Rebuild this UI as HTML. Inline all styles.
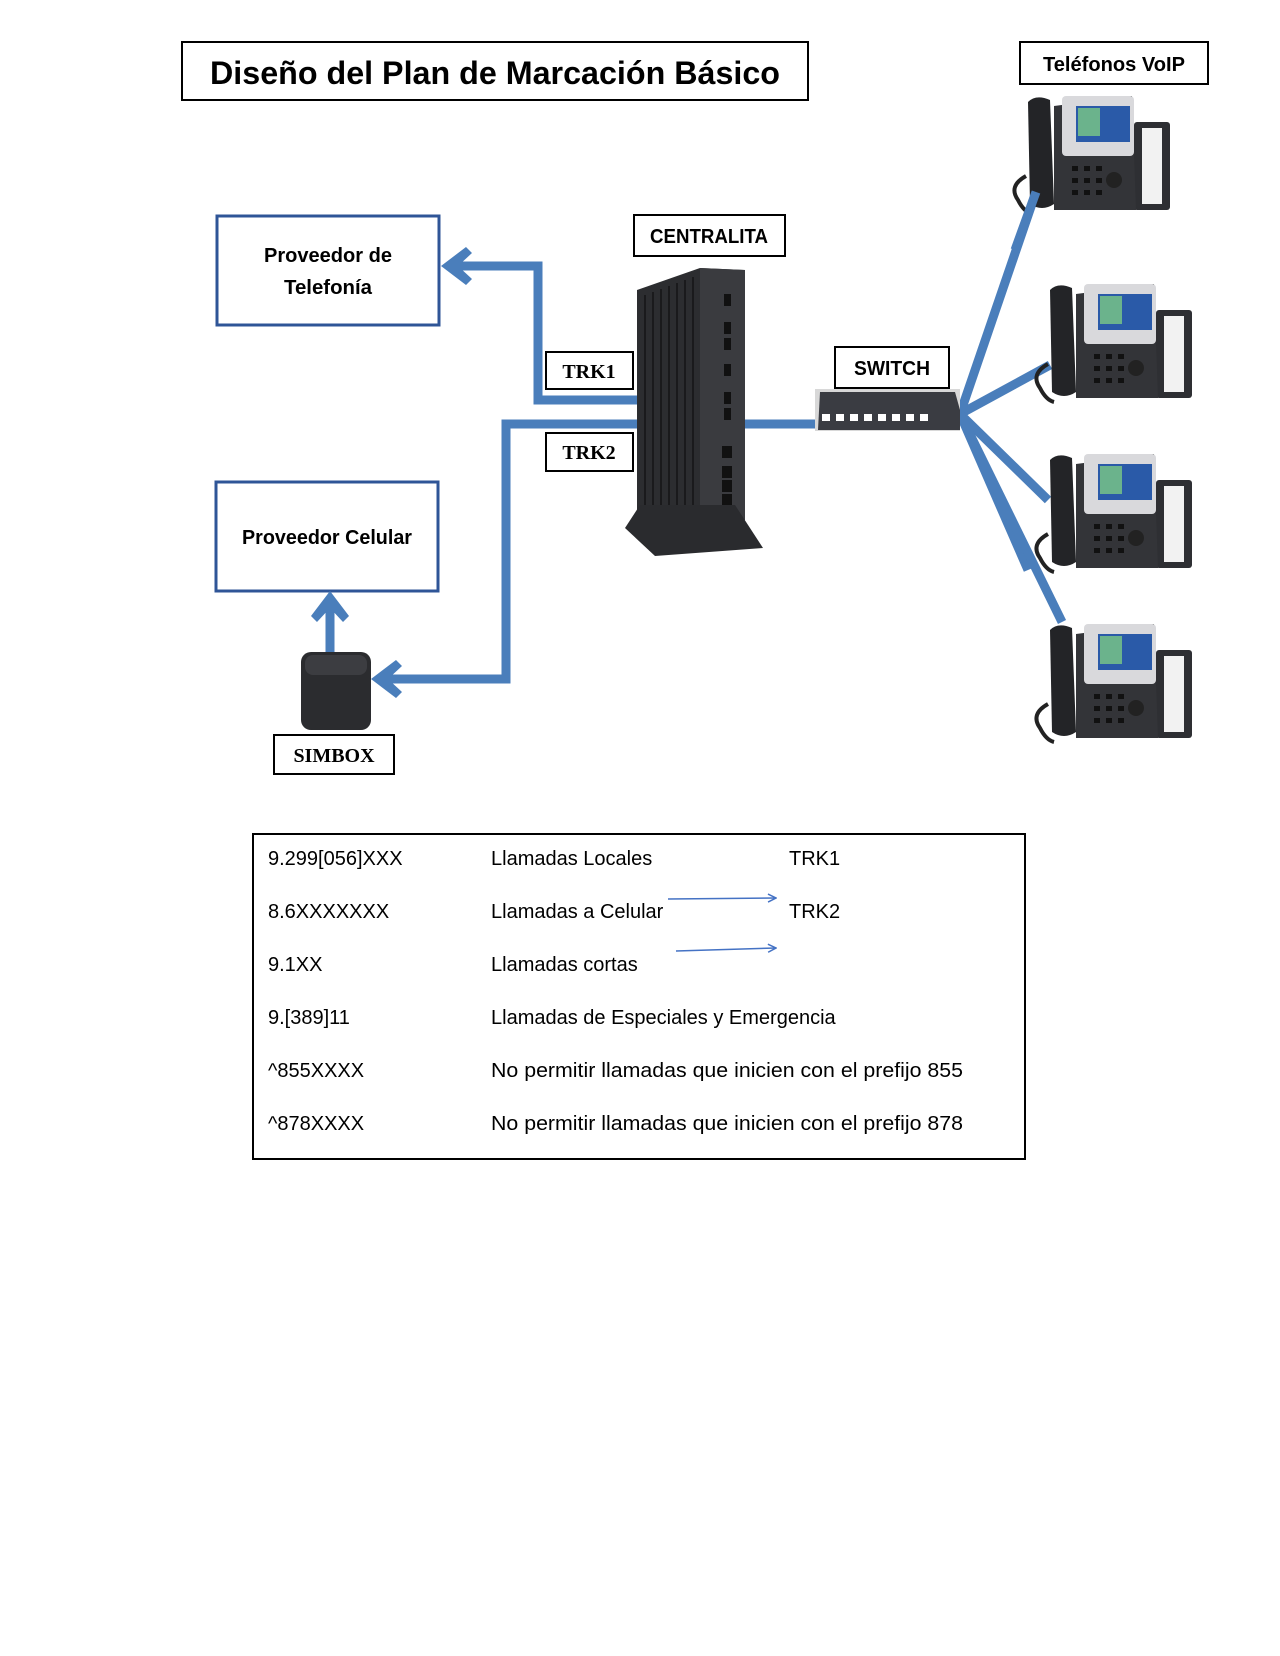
<!DOCTYPE html>
<html><head><meta charset="utf-8"><style>
html,body{margin:0;padding:0;background:#fff;}
svg{display:block;}
text{font-family:"Liberation Sans",sans-serif;}
</style></head><body>
<svg width="1280" height="1656" viewBox="0 0 1280 1656" xmlns="http://www.w3.org/2000/svg">
<defs>
<g id="phone">
  <!-- key module -->
  <rect x="110" y="26" width="36" height="88" rx="3" fill="#2e2f33"/>
  <rect x="118" y="32" width="20" height="76" fill="#f2f2f2"/>
  <!-- body -->
  <path d="M30 10 L108 0 L112 114 L30 114 Z" fill="#333438"/>
  <rect x="38" y="0" width="72" height="60" rx="4" fill="#d9d9dc"/>
  <rect x="52" y="10" width="54" height="36" fill="#2a5aa8"/>
  <rect x="54" y="12" width="22" height="28" fill="#6bb38c"/>
  <g fill="#111">
    <rect x="48" y="70" width="6" height="5"/><rect x="60" y="70" width="6" height="5"/><rect x="72" y="70" width="6" height="5"/>
    <rect x="48" y="82" width="6" height="5"/><rect x="60" y="82" width="6" height="5"/><rect x="72" y="82" width="6" height="5"/>
    <rect x="48" y="94" width="6" height="5"/><rect x="60" y="94" width="6" height="5"/><rect x="72" y="94" width="6" height="5"/>
  </g>
  <circle cx="90" cy="84" r="8" fill="#222"/>
  <!-- handset -->
  <path d="M4 6 Q12 -2 26 4 L30 108 Q18 116 6 108 Z" fill="#232427"/>
  <path d="M2 80 Q-16 90 -6 104 Q0 116 8 118" stroke="#222" stroke-width="4" fill="none"/>
</g>
<marker id="ah" markerWidth="10" markerHeight="10" refX="9" refY="5" orient="auto" markerUnits="userSpaceOnUse">
  <path d="M1 1 L9 5 L1 9" stroke="#4472c4" stroke-width="1.5" fill="none"/>
</marker>
</defs>

<!-- Title -->
<rect x="182" y="42" width="626" height="58" fill="none" stroke="#000" stroke-width="2"/>
<text x="495" y="84" font-size="32" font-weight="bold" text-anchor="middle" textLength="570" lengthAdjust="spacingAndGlyphs">Diseño del Plan de Marcación Básico</text>

<!-- Teléfonos VoIP -->
<rect x="1020" y="42" width="188" height="42" fill="none" stroke="#000" stroke-width="2"/>
<text x="1114" y="71" font-size="20" font-weight="bold" text-anchor="middle" textLength="142" lengthAdjust="spacingAndGlyphs">Teléfonos VoIP</text>

<!-- Proveedor boxes -->
<rect x="217" y="216" width="222" height="109" fill="none" stroke="#2f5597" stroke-width="3"/>
<text x="328" y="262" font-size="20" font-weight="bold" text-anchor="middle" textLength="128" lengthAdjust="spacingAndGlyphs">Proveedor de</text>
<text x="328" y="294" font-size="20" font-weight="bold" text-anchor="middle" textLength="88" lengthAdjust="spacingAndGlyphs">Telefonía</text>

<rect x="216" y="482" width="222" height="109" fill="none" stroke="#2f5597" stroke-width="3"/>
<text x="327" y="544" font-size="20" font-weight="bold" text-anchor="middle" textLength="170" lengthAdjust="spacingAndGlyphs">Proveedor Celular</text>

<!-- connectors -->
<g stroke="#4a7ebb" stroke-width="9" fill="none" stroke-linejoin="miter">
  <polyline points="640,400 538,400 538,266 455,266"/>
  <polyline points="640,424 506,424 506,679 385,679"/>
  <line x1="745" y1="424" x2="820" y2="424"/>
  <line x1="330" y1="652" x2="330" y2="605"/>
  <line x1="960" y1="414" x2="1036" y2="192"/>
  <line x1="960" y1="414" x2="1050" y2="365"/>
  <line x1="960" y1="414" x2="1048" y2="500"/>
  <line x1="960" y1="414" x2="1028" y2="570"/>
  <line x1="960" y1="414" x2="1062" y2="622"/>
</g>
<g fill="#4a7ebb">
  <path d="M441 266 L466 247 L472 253 L458 266 L472 279 L466 285 Z"/>
  <path d="M371 679 L396 660 L402 666 L388 679 L402 692 L396 698 Z"/>
  <path d="M330 591 L349 616 L343 622 L330 608 L317 622 L311 616 Z"/>
</g>

<!-- Centralita device -->
<path d="M637 290 L700 268 L745 270 L745 520 L700 535 L637 520 Z" fill="#2c2d30"/>
<path d="M700 268 L745 270 L745 520 L700 535 Z" fill="#3a3b3f"/>
<g stroke="#1a1a1c" stroke-width="2">
  <line x1="645" y1="295" x2="645" y2="515"/><line x1="653" y1="292" x2="653" y2="517"/><line x1="661" y1="289" x2="661" y2="519"/>
  <line x1="669" y1="286" x2="669" y2="521"/><line x1="677" y1="283" x2="677" y2="523"/><line x1="685" y1="280" x2="685" y2="525"/><line x1="693" y1="277" x2="693" y2="527"/>
</g>
<g fill="#111"><rect x="724" y="294" width="7" height="12"/><rect x="724" y="322" width="7" height="12"/><rect x="724" y="338" width="7" height="12"/><rect x="724" y="364" width="7" height="12"/><rect x="724" y="392" width="7" height="12"/><rect x="724" y="408" width="7" height="12"/>
<rect x="722" y="446" width="10" height="12"/><rect x="722" y="466" width="10" height="12"/><rect x="722" y="480" width="10" height="12"/><rect x="722" y="494" width="10" height="12"/></g>
<path d="M640 505 L735 505 L763 548 L655 556 L625 528 Z" fill="#2a2b2e"/>
<rect x="634" y="215" width="151" height="41" fill="#fff" stroke="#000" stroke-width="2"/>
<text x="709" y="243" font-size="20" font-weight="bold" text-anchor="middle" textLength="118" lengthAdjust="spacingAndGlyphs">CENTRALITA</text>

<!-- TRK labels -->
<rect x="546" y="352" width="87" height="37" fill="#fff" stroke="#000" stroke-width="2"/>
<text x="589" y="378" font-size="20" font-weight="bold" font-family="Liberation Serif" text-anchor="middle" style="font-family:'Liberation Serif',serif">TRK1</text>
<rect x="546" y="433" width="87" height="38" fill="#fff" stroke="#000" stroke-width="2"/>
<text x="589" y="459" font-size="20" font-weight="bold" text-anchor="middle" style="font-family:'Liberation Serif',serif">TRK2</text>

<!-- Switch -->
<rect x="815" y="389" width="145" height="42" fill="#d8d8d8"/>
<path d="M820 392 L955 392 L960 410 L960 430 L818 430 Z" fill="#3a3c42"/>
<g fill="#fff"><rect x="822" y="414" width="8" height="7"/><rect x="836" y="414" width="8" height="7"/><rect x="850" y="414" width="8" height="7"/><rect x="864" y="414" width="8" height="7"/><rect x="878" y="414" width="8" height="7"/><rect x="892" y="414" width="8" height="7"/><rect x="906" y="414" width="8" height="7"/><rect x="920" y="414" width="8" height="7"/></g>
<rect x="835" y="347" width="114" height="41" fill="#fff" stroke="#000" stroke-width="2"/>
<text x="892" y="375" font-size="20" font-weight="bold" text-anchor="middle" textLength="76" lengthAdjust="spacingAndGlyphs">SWITCH</text>

<!-- Simbox -->
<rect x="301" y="652" width="70" height="78" rx="10" fill="#2b2c2f"/>
<rect x="305" y="655" width="62" height="20" rx="8" fill="#3c3d41"/>
<rect x="274" y="735" width="120" height="39" fill="#fff" stroke="#000" stroke-width="2"/>
<text x="334" y="762" font-size="20" font-weight="bold" text-anchor="middle" style="font-family:'Liberation Serif',serif">SIMBOX</text>

<!-- Phones -->
<use href="#phone" x="1024" y="96"/>
<use href="#phone" x="1046" y="284"/>
<use href="#phone" x="1046" y="454"/>
<use href="#phone" x="1046" y="624"/>
<!-- redraw line tips over handsets -->
<g stroke="#4a7ebb" stroke-width="9">
  <line x1="1015" y1="250" x2="1036" y2="192"/>
</g>

<!-- Table -->
<rect x="253" y="834" width="772" height="325" fill="none" stroke="#000" stroke-width="2"/>
<g font-size="20">
<text x="268" y="865">9.299[056]XXX</text>
<text x="491" y="865">Llamadas Locales</text>
<text x="789" y="865">TRK1</text>
<text x="268" y="918">8.6XXXXXXX</text>
<text x="491" y="918">Llamadas a Celular</text>
<text x="789" y="918">TRK2</text>
<text x="268" y="971">9.1XX</text>
<text x="491" y="971">Llamadas cortas</text>
<text x="268" y="1024">9.[389]11</text>
<text x="491" y="1024">Llamadas de Especiales y Emergencia</text>
<text x="268" y="1077">^855XXXX</text>
<text x="491" y="1077" textLength="472" lengthAdjust="spacingAndGlyphs">No permitir llamadas que inicien con el prefijo 855</text>
<text x="268" y="1130">^878XXXX</text>
<text x="491" y="1130" textLength="472" lengthAdjust="spacingAndGlyphs">No permitir llamadas que inicien con el prefijo 878</text>
</g>
<line x1="668" y1="899" x2="776" y2="898" stroke="#4472c4" stroke-width="1.5" marker-end="url(#ah)"/>
<line x1="676" y1="951" x2="776" y2="948" stroke="#4472c4" stroke-width="1.5" marker-end="url(#ah)"/>
</svg>
</body></html>
